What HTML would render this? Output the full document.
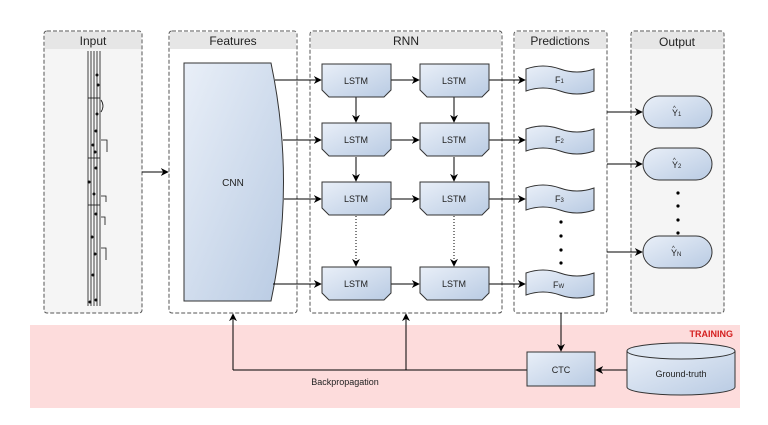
<!DOCTYPE html>
<html><head><meta charset="utf-8"><style>
html,body{margin:0;padding:0;background:#fff;}
svg{display:block;font-family:"Liberation Sans",sans-serif;}
</style></head><body>
<svg width="768" height="425" viewBox="0 0 768 425" xmlns="http://www.w3.org/2000/svg">
<defs>
<linearGradient id="g" x1="0" y1="0" x2="1" y2="1">
<stop offset="0" stop-color="#e9eff8"/><stop offset="1" stop-color="#b9cbe3"/>
</linearGradient>
<marker id="a" viewBox="0 0 10 10" refX="9" refY="5" markerWidth="8" markerHeight="8" orient="auto-start-reverse">
<path d="M0,0 L10,5 L0,10 L3,5 z" fill="#000"/>
</marker>
</defs>
<!-- training band -->
<rect x="30" y="325" width="710" height="83" fill="#fddcdc"/>
<text x="733" y="337" font-size="9" font-weight="bold" fill="#d42020" text-anchor="end">TRAINING</text>

<!-- panels -->
<g stroke="#555" stroke-width="1" stroke-dasharray="4,2">
<rect x="44" y="31" width="98" height="282" rx="3" fill="#f5f5f5"/>
<rect x="169" y="31" width="128" height="282" rx="3" fill="#fff"/>
<rect x="310" y="31" width="192" height="282" rx="3" fill="#fff"/>
<rect x="514" y="31" width="93" height="282" rx="3" fill="#fff"/>
<rect x="631" y="31" width="93" height="282" rx="3" fill="#f5f5f5"/>
</g>
<g fill="#e6e6e6">
<rect x="45" y="32" width="96" height="17"/>
<rect x="170" y="32" width="126" height="17"/>
<rect x="311" y="32" width="190" height="17"/>
<rect x="515" y="32" width="91" height="17"/>
<rect x="632" y="32" width="91" height="17"/>
</g>
<g font-size="12" fill="#222" text-anchor="middle">
<text x="93" y="45">Input</text>
<text x="233" y="45">Features</text>
<text x="406" y="45">RNN</text>
<text x="560" y="45">Predictions</text>
<text x="677" y="46">Output</text>
</g>

<!-- sheet music -->
<g stroke="#111" stroke-width="0.8" fill="none">
<line x1="88" y1="51" x2="88" y2="306"/><line x1="91" y1="51" x2="91" y2="306"/>
<line x1="94" y1="51" x2="94" y2="306"/><line x1="97" y1="51" x2="97" y2="306"/>
<line x1="100" y1="51" x2="100" y2="306"/>
<line x1="88" y1="98" x2="100" y2="98"/><line x1="88" y1="158" x2="100" y2="158"/><line x1="88" y1="205" x2="100" y2="205"/>
<path d="M101,100 q4,6 0,12"/><path d="M101,140 h6 v12"/><path d="M101,196 h5 v6"/><path d="M101,217 h4 v8"/><path d="M101,248 h5 v12"/>
</g>
<g fill="#111">
<circle cx="97" cy="75" r="1.5"/><circle cx="98" cy="85" r="1.5"/><circle cx="97" cy="114" r="1.5"/><circle cx="96" cy="131" r="1.5"/>
<circle cx="93" cy="145" r="1.5"/><circle cx="95" cy="152" r="1.5"/><circle cx="96" cy="168" r="1.5"/><circle cx="89" cy="182" r="1.5"/>
<circle cx="94" cy="194" r="1.5"/><circle cx="96" cy="214" r="1.5"/><circle cx="92" cy="237" r="1.5"/><circle cx="95" cy="254" r="1.5"/>
<circle cx="93" cy="275" r="1.5"/><circle cx="96" cy="300" r="1.5"/><circle cx="90" cy="302" r="1.5"/>
</g>

<!-- CNN -->
<path d="M184,63 L271,63 Q296,182 271,301 L184,301 Z" fill="url(#g)" stroke="#333" stroke-width="1"/>
<text x="233" y="186" font-size="10" text-anchor="middle" fill="#222">CNN</text>

<!-- arrows -->
<g stroke="#000" stroke-width="1" fill="none" marker-end="url(#a)">
<line x1="142" y1="172" x2="168" y2="172"/>
<line x1="275" y1="80" x2="321" y2="80"/>
<line x1="283" y1="140" x2="321" y2="140"/>
<line x1="284" y1="199" x2="321" y2="199"/>
<line x1="273" y1="284" x2="321" y2="284"/>
<line x1="391" y1="80" x2="419" y2="80"/><line x1="391" y1="140" x2="419" y2="140"/>
<line x1="391" y1="199" x2="419" y2="199"/><line x1="391" y1="284" x2="419" y2="284"/>
<line x1="489" y1="80" x2="525" y2="80"/><line x1="489" y1="140" x2="525" y2="140"/>
<line x1="489" y1="199" x2="525" y2="199"/><line x1="489" y1="284" x2="525" y2="284"/>
<line x1="356" y1="97" x2="356" y2="122"/><line x1="454" y1="97" x2="454" y2="122"/>
<line x1="356" y1="157" x2="356" y2="181"/><line x1="454" y1="157" x2="454" y2="181"/>
<line x1="356" y1="216" x2="356" y2="266" stroke-dasharray="1,2"/><line x1="454" y1="216" x2="454" y2="266" stroke-dasharray="1,2"/>
<line x1="607" y1="112" x2="642" y2="112"/><line x1="607" y1="164" x2="642" y2="164"/><line x1="607" y1="252" x2="642" y2="252"/>
<line x1="561" y1="313" x2="561" y2="351"/>
<line x1="627" y1="370" x2="596" y2="370"/>
<line x1="233" y1="370" x2="233" y2="314"/>
<line x1="406" y1="370" x2="406" y2="314"/>
</g>
<line x1="233" y1="370" x2="527" y2="370" stroke="#000" stroke-width="1"/>
<text x="345" y="385" font-size="9" fill="#222" text-anchor="middle">Backpropagation</text>

<!-- LSTMs -->
<g fill="url(#g)" stroke="#333" stroke-width="1">
<path d="M322,64 h69 v26 l-7,7 h-55 l-7,-7 z"/><path d="M420,64 h69 v26 l-7,7 h-55 l-7,-7 z"/>
<path d="M322,123 h69 v26 l-7,7 h-55 l-7,-7 z"/><path d="M420,123 h69 v26 l-7,7 h-55 l-7,-7 z"/>
<path d="M322,182 h69 v26 l-7,7 h-55 l-7,-7 z"/><path d="M420,182 h69 v26 l-7,7 h-55 l-7,-7 z"/>
<path d="M322,267 h69 v26 l-7,7 h-55 l-7,-7 z"/><path d="M420,267 h69 v26 l-7,7 h-55 l-7,-7 z"/>
</g>
<g font-size="9" fill="#222" text-anchor="middle">
<text x="356" y="84">LSTM</text><text x="454" y="84">LSTM</text>
<text x="356" y="143">LSTM</text><text x="454" y="143">LSTM</text>
<text x="356" y="202">LSTM</text><text x="454" y="202">LSTM</text>
<text x="356" y="287">LSTM</text><text x="454" y="287">LSTM</text>
</g>

<!-- flags -->
<g fill="url(#g)" stroke="#333" stroke-width="1">
<path d="M526,69 q17,-6 34,0 t34,0 v22 q-17,6 -34,0 t-34,0 z"/>
<path d="M526,129 q17,-6 34,0 t34,0 v22 q-17,6 -34,0 t-34,0 z"/>
<path d="M526,188 q17,-6 34,0 t34,0 v22 q-17,6 -34,0 t-34,0 z"/>
<path d="M526,273 q17,-6 34,0 t34,0 v22 q-17,6 -34,0 t-34,0 z"/>
</g>
<g font-size="9" fill="#222">
<text x="555" y="83">F<tspan font-size="6">1</tspan></text>
<text x="555" y="143">F<tspan font-size="6">2</tspan></text>
<text x="555" y="202">F<tspan font-size="6">3</tspan></text>
<text x="553" y="288">F<tspan font-size="6">W</tspan></text>
</g>
<g fill="#000">
<circle cx="561" cy="222" r="1.6"/><circle cx="561" cy="236" r="1.6"/><circle cx="561" cy="250" r="1.6"/><circle cx="561" cy="263" r="1.6"/>
<circle cx="678" cy="193" r="1.6"/><circle cx="678" cy="206" r="1.6"/><circle cx="678" cy="220" r="1.6"/><circle cx="678" cy="233" r="1.6"/>
</g>

<!-- outputs -->
<g fill="url(#g)" stroke="#333" stroke-width="1">
<rect x="643" y="96" width="69" height="32" rx="16"/>
<rect x="643" y="148" width="69" height="32" rx="16"/>
<rect x="643" y="236" width="69" height="32" rx="16"/>
</g>
<g font-size="9" fill="#222">
<text x="672" y="116">Y<tspan font-size="6">1</tspan></text><text x="673" y="110" font-size="6">^</text>
<text x="672" y="168">Y<tspan font-size="6">2</tspan></text><text x="673" y="162" font-size="6">^</text>
<text x="671" y="256">Y<tspan font-size="6">N</tspan></text><text x="672" y="250" font-size="6">^</text>
</g>

<!-- CTC -->
<rect x="527" y="352" width="68" height="34" fill="url(#g)" stroke="#333"/>
<text x="561" y="373" font-size="9" fill="#222" text-anchor="middle">CTC</text>

<!-- Ground truth -->
<path d="M627,351 v36 a54,8 0 0 0 108,0 v-36" fill="url(#g)" stroke="#333"/>
<ellipse cx="681" cy="351" rx="54" ry="8" fill="#dde6f2" stroke="#333"/>
<text x="681" y="377" font-size="9" fill="#222" text-anchor="middle">Ground-truth</text>
</svg>
</body></html>
